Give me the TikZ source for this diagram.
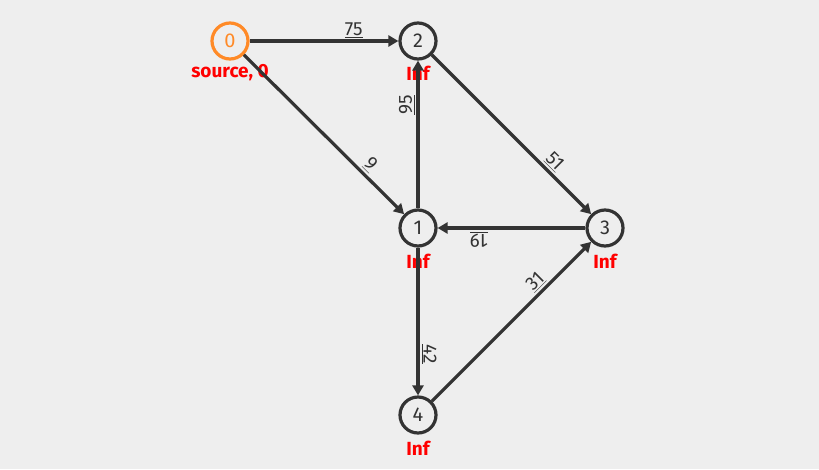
\documentclass[tikz,border=0pt]{standalone}
\usepackage{fontspec}
\setmainfont{Fira Sans}
\usetikzlibrary{arrows.meta}
\definecolor{bg}{HTML}{EEEEEE}
\definecolor{dk}{HTML}{333333}
\definecolor{org}{HTML}{FF8A27}
\tikzset{
  vtx/.style={circle,draw=dk,line width=3.2pt,fill=bg,minimum size=36pt,inner sep=0pt,font=\fontsize{20}{20}\selectfont,text=dk},
  src/.style={vtx,draw=org,text=org},
  dist/.style={text=red,font=\bfseries\fontsize{19}{19}\selectfont,inner sep=0pt},
  e/.style={draw=dk,line width=3.2pt,-{Triangle[length=10pt,width=11pt]}},
  lbl/.style={anchor=south,inner sep=2pt,text=dk,font=\fontsize{19}{19}\selectfont},
}
\begin{document}
\begin{tikzpicture}[x=1pt,y=-1pt]
\fill[bg] (0,0) rectangle (819,469);
\useasboundingbox (0,0) rectangle (819,469);
\node[src] (n0) at (230,41) {0};
\node[vtx] (n2) at (418,41) {2};
\node[vtx] (n1) at (418,228) {1};
\node[vtx] (n3) at (605,228) {3};
\node[vtx] (n4) at (418,415) {4};
\node[dist] (d0) at (230,73) {source, 0};
\node[dist] (d2) at (418,73) {Inf};
\node[dist] (d1) at (418,261) {Inf};
\node[dist] (d3) at (605,261) {Inf};
\node[dist] (d4) at (418,448) {Inf};
\draw[e] (n0) -- node[lbl,pos=.7,rotate=0]{\underline{75}} (n2);
\draw[e] (n0) -- node[lbl,pos=.74,rotate=-45]{\underline{9}} (n1);
\draw[e] (n1) -- node[lbl,pos=.7,rotate=90]{\underline{95}} (n2);
\draw[e] (n2) -- node[lbl,pos=.72,rotate=-45]{\underline{51}} (n3);
\draw[e] (n3) -- node[lbl,pos=.72,rotate=180]{\underline{19}} (n1);
\draw[e] (n4) -- node[lbl,pos=.7,rotate=45]{\underline{31}} (n3);
\draw[e] (n1) -- node[lbl,pos=.72,rotate=-90]{\underline{42}} (n4);
\end{tikzpicture}
\end{document}
